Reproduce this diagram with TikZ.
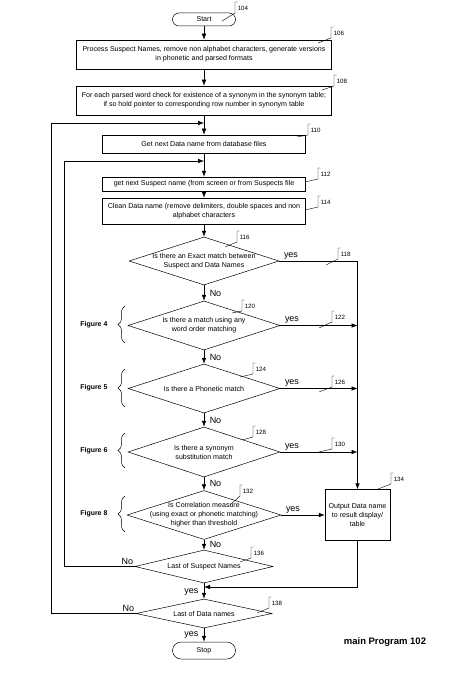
\documentclass[tikz,border=0pt]{standalone}
\usepackage{fontspec}
\setmainfont{Liberation Sans}
\usetikzlibrary{shapes.geometric,arrows.meta,decorations.pathreplacing}
\newcommand{\boxfont}{\fontsize{7.1}{9}\selectfont}
\newcommand{\refmark}[3]{%
  \draw[line width=0.4bp] (#1) -- (#2) -- ++(0,-11) -- ++(2.5,0);
  \node[refnum] at ([shift={(2,-5)}]#2) {#3};}

\begin{document}
\begin{tikzpicture}[x=1bp,y=-1bp,>={Latex[length=6bp,width=4.5bp]},line width=0.5bp,
    box/.style={draw,rectangle,inner sep=0pt,align=center,font=\boxfont},
    term/.style={draw,rectangle,inner sep=0pt,minimum width=63bp,font=\boxfont},
    dec/.style={draw,diamond,inner sep=0pt},
    qtext/.style={align=center,font=\boxfont},
    yn/.style={inner sep=1.5bp,font=\fontsize{9}{10}\selectfont},
    fig/.style={anchor=east,font=\bfseries\fontsize{7}{8}\selectfont},
    refnum/.style={anchor=west,inner sep=0.5bp,font=\fontsize{6.2}{7}\selectfont},
    figbrace/.style={decorate,decoration={brace,amplitude=7bp}}]
  \useasboundingbox (0,0) rectangle (474,682);

  % main column
  \node[term,minimum height=13bp,rounded corners=6.5bp] (start) at (204,19.5) {Start};
  \node[box,minimum width=255bp,minimum height=29bp] (p106) at (204,54.5)
    {Process Suspect Names, remove non alphabet characters, generate versions\\ in phonetic and parsed formats};
  \node[box,minimum width=255bp,minimum height=29bp] (p108) at (204,100.5)
    {For each parsed word check for existence of a synonym in the synonym table;\\ if so hold pointer to corresponding row number in synonym table};
  \node[box,minimum width=203bp,minimum height=18bp] (p110) at (204,144) {Get next Data name from database files};
  \node[box,minimum width=203bp,minimum height=14bp] (p112) at (204,184) {get next Suspect name (from screen or from Suspects file};
  \node[box,minimum width=203bp,minimum height=26bp] (p114) at (204,211)
    {Clean Data name (remove delimiters, double spaces and non\\ alphabet characters};
  \node[dec,minimum width=150bp,minimum height=48bp] (d116) at (204,261) {};
  \node[dec,minimum width=152bp,minimum height=49bp] (d120) at (204,325.5) {};
  \node[dec,minimum width=152bp,minimum height=49bp] (d124) at (204,388.5) {};
  \node[dec,minimum width=152bp,minimum height=50bp] (d128) at (204,452) {};
  \node[dec,minimum width=154bp,minimum height=49bp] (d132) at (204,515) {};
  \node[dec,minimum width=138bp,minimum height=33bp] (d136) at (204,566.5) {};
  \node[dec,minimum width=136bp,minimum height=29bp] (d138) at (204,613.5) {};
  \node[term,minimum height=17bp,rounded corners=8.5bp] (stop) at (204,650.5) {Stop};
  \node[box,minimum width=65bp,minimum height=51bp] (p134) at (357.5,515)
    {Output Data name\\ to result display/\\ table};

  \node[qtext] (t116) at (d116) {Is there an Exact match between\\ Suspect and Data Names};
  \node[qtext] (t120) at (d120) {Is there a match using any\\ word order matching};
  \node[qtext] (t124) at (d124) {Is there a Phonetic match};
  \node[qtext] (t128) at (d128) {Is there a synonym\\ substitution match};
  \node[qtext] (t132) at (d132) {Is Correlation measure\\ (using exact or phonetic matching)\\ higher than threshold};
  \node[qtext] (t136) at (d136) {Last of Suspect Names};
  \node[qtext] (t138) at (d138) {Last of Data names};

  \coordinate (j110) at (204,123);
  \coordinate (j112) at (204,161);
  \coordinate (j138) at (204,587);

  \draw[->] (start) -- (p106);
  \draw[->] (p106) -- (p108);
  \draw[->] (p108) -- (p110);
  \draw[->] (p110) -- (p112);
  \draw[->] (p112) -- (p114);
  \draw[->] (p114) -- (d116);
  \draw[->] (d116) -- node[yn,right=4bp]{No} (d120);
  \draw[->] (d120) -- node[yn,right=4bp]{No} (d124);
  \draw[->] (d124) -- node[yn,right=4bp]{No} (d128);
  \draw[->] (d128) -- node[yn,right=4bp]{No} (d132);
  \draw[->] (d132) -- node[yn,right=4bp]{No} (d136);
  \draw[->] (d136) -- node[yn,left=4bp,pos=0.55]{yes} (d138);
  \draw[->] (d138) -- node[yn,left=4bp]{yes} (stop);

  % yes branches
  \draw[->] (d116.east) node[yn,above right,xshift=3bp]{yes} -| (p134.north);
  \draw[->] (d120.east) node[yn,above right,xshift=3bp]{yes} -- (d120.east -| p134.north);
  \draw[->] (d124.east) node[yn,above right,xshift=3bp]{yes} -- (d124.east -| p134.north);
  \draw[->] (d128.east) node[yn,above right,xshift=3bp]{yes} -- (d128.east -| p134.north);
  \draw[->] (d132.east) node[yn,above right,xshift=3bp]{yes} -- (p134.west);
  \draw[->] (p134.south) |- (j138);

  % loops back
  \draw[->] (d136.west) node[yn,above left]{No} -- (64,566.5) -- (64,161) -- (j112);
  \draw[->] (d138.west) node[yn,above left]{No} -- (51,613.5) -- (51,123) -- (j110);

  % figure braces
  \draw[figbrace] (125,343) -- (125,306);
  \node[fig] (f4) at (111,324.5) {Figure 4};
  \draw[figbrace] (125,407) -- (125,369);
  \node[fig] (f5) at (111,388) {Figure 5};
  \draw[figbrace] (125,468) -- (125,433);
  \node[fig] (f6) at (111,450.5) {Figure 6};
  \draw[figbrace] (125,532) -- (125,496);
  \node[fig] (f8) at (111,514) {Figure 8};

  % reference numbers
  \refmark{222,21}{235,13}{104}
  \refmark{318,43}{331,38}{106}
  \refmark{322,90}{334,86}{108}
  \refmark{297,137}{308,135}{110}
  \refmark{305,182}{318,179}{112}
  \refmark{305,210}{318,207}{114}
  \refmark{225,247}{237,242}{116}
  \refmark{326,265}{338,259}{118}
  \refmark{232,313}{242,311}{120}
  \refmark{319,328}{332,322}{122}
  \refmark{240,377}{253,374}{124}
  \refmark{319,392}{332,387}{126}
  \refmark{242,440}{253,437}{128}
  \refmark{319,452}{332,449}{130}
  \refmark{230,505}{240,496}{132}
  \refmark{378,489}{391,484}{134}
  \refmark{240,562}{251,558}{136}
  \refmark{257,613}{269,608}{138}

  \node[font=\bfseries\fontsize{9.5}{11}\selectfont] (title) at (385,642) {main Program 102};
\end{tikzpicture}
\end{document}
